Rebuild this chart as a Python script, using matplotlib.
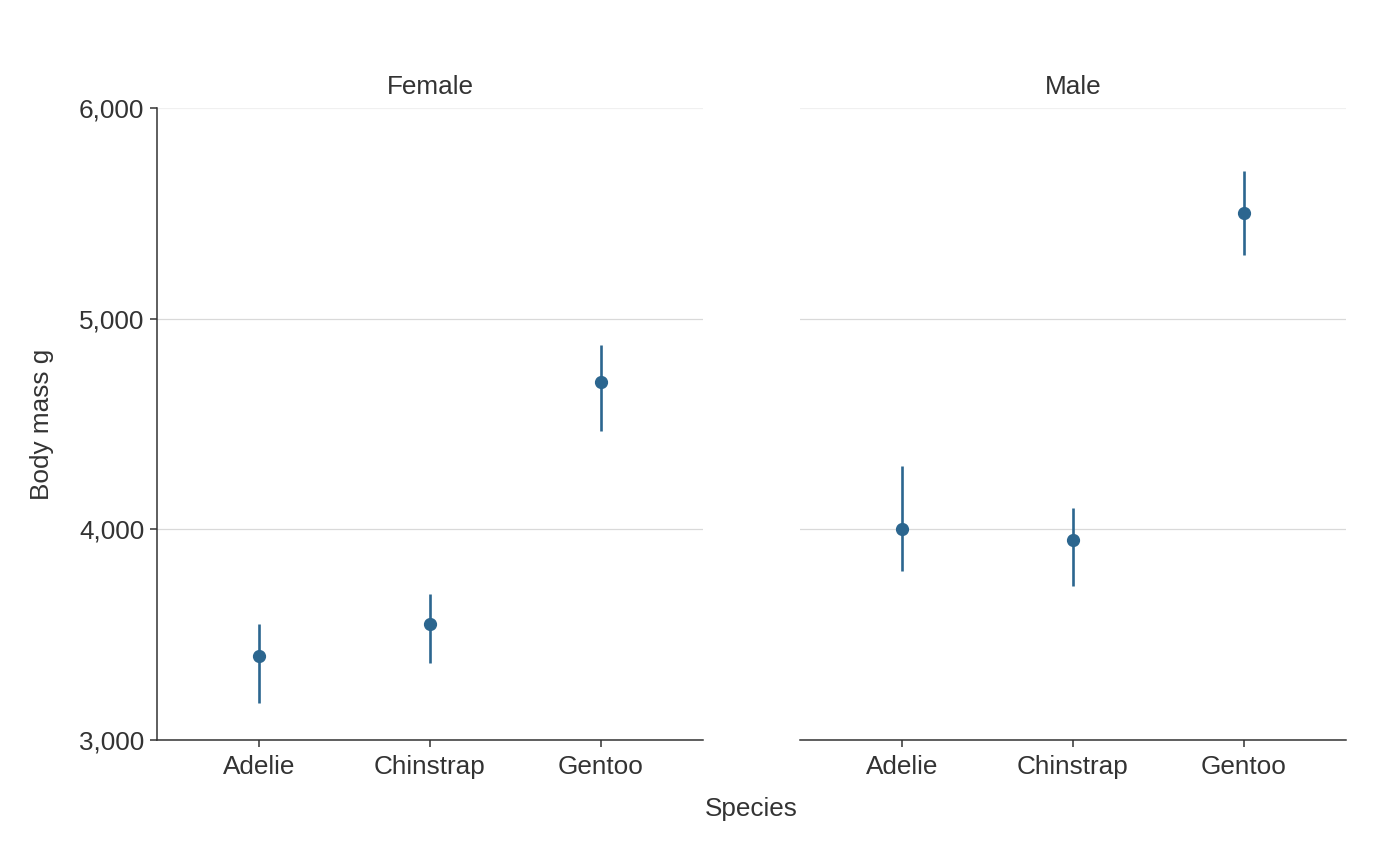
import numpy as np
import matplotlib
matplotlib.use('Agg')
import matplotlib.pyplot as plt
from matplotlib.ticker import FuncFormatter

species = ['Adelie', 'Chinstrap', 'Gentoo']
panels = ['Female', 'Male']

# mean body mass and interval bounds per panel
mean_mass = {'Female': [3400, 3550, 4700], 'Male': [4000, 3950, 5500]}
low_mass = {'Female': [3175, 3365, 4465], 'Male': [3800, 3730, 5300]}
high_mass = {'Female': [3550, 3695, 4875], 'Male': [4300, 4100, 5700]}

yticks = [3000, 4000, 5000, 6000]

plt.rcParams['font.family'] = ['Liberation Sans', 'DejaVu Sans']
plt.rcParams['font.size'] = 18.8
text_col = '#333333'
point_col = '#2c668f'

fig = plt.figure(figsize=(14, 8.66), dpi=100)
ax_left = fig.add_axes([0.1121, 0.1455, 0.39, 0.7298])
ax_right = fig.add_axes([0.5714, 0.1455, 0.39, 0.7298], sharey=ax_left)

x = np.arange(len(species))
for ax, name in zip([ax_left, ax_right], panels):
    m = np.array(mean_mass[name])
    lo = np.array(low_mass[name])
    hi = np.array(high_mass[name])
    ax.vlines(x, lo, hi, color=point_col, linewidth=1.9, zorder=3)
    ax.plot(x, m, 'o', color=point_col, markersize=8.5, zorder=4)
    ax.set_xlim(-0.6, 2.6)
    ax.set_ylim(3000, 6000)
    ax.set_xticks(x)
    ax.set_xticklabels(species, color=text_col)
    ax.set_yticks(yticks)
    ax.grid(axis='y', color='#d9d9d9', linewidth=0.9, zorder=0)
    ax.set_axisbelow(True)
    # top gridline sits on the panel edge, looks faint in the original
    ax.yaxis.get_gridlines()[-1].set_color('#f0f0f0')
    for side in ['top', 'right']:
        ax.spines[side].set_visible(False)
    ax.spines['bottom'].set_color(text_col)
    ax.spines['bottom'].set_linewidth(1.1)
    ax.tick_params(axis='x', colors=text_col, length=5, width=1.1, pad=6)
    ax.set_title(name, color=text_col, fontsize=18.8, pad=10)

ax_left.spines['left'].set_color(text_col)
ax_left.spines['left'].set_linewidth(1.1)
ax_left.tick_params(axis='y', colors=text_col, length=5, width=1.1, pad=4)
ax_left.yaxis.set_major_formatter(FuncFormatter(lambda v, p: '{:,.0f}'.format(v)))
ax_left.set_ylabel('Body mass g', color=text_col, labelpad=18)

ax_right.spines['left'].set_visible(False)
ax_right.tick_params(axis='y', left=False, labelleft=False)

fig.text(0.5364, 0.066, 'Species', ha='center', va='center', color=text_col,
         fontsize=18.8)

plt.savefig('out.png', dpi=100, facecolor='white')
